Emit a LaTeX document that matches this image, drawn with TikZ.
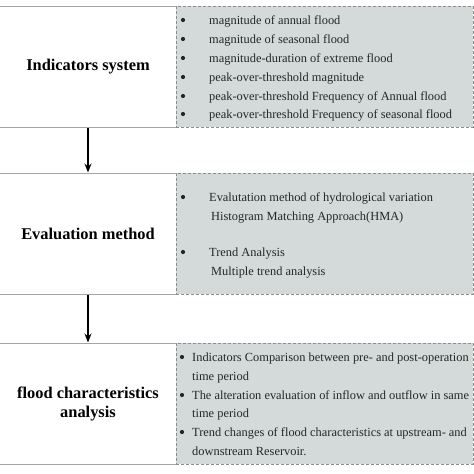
\documentclass[tikz,border=0pt]{standalone}
\usepackage{fontspec}
\setmainfont{Liberation Serif}
\usetikzlibrary{arrows.meta}
\definecolor{panelfill}{RGB}{212,218,217}
\definecolor{paneldash}{RGB}{140,140,140}
\definecolor{boxline}{RGB}{165,165,165}
\tikzset{
  leftbox/.style={draw=boxline, line width=1pt, fill=white, minimum width=180pt, minimum height=121pt, inner sep=0pt, align=center, font=\fontsize{16.4}{19}\selectfont\bfseries},
  panel/.style={draw=paneldash, dashed, dash pattern=on 3pt off 2pt, line width=0.8pt, fill=panelfill, minimum width=297pt, minimum height=121pt, inner sep=0pt},
  item/.style={anchor=base west, inner sep=0pt, font=\fontsize{12.4}{15}\selectfont, text=black!85},
  bul/.style={circle, fill=black!85, inner sep=0pt, minimum size=4.2pt, yshift=4pt},
  arr/.style={line width=1.3pt, -{Stealth[length=9pt,width=7pt]}}
}
\begin{document}
\begin{tikzpicture}[x=1pt,y=-1pt]
\useasboundingbox (0,0) rectangle (474,474);
\fill[white] (0,0) rectangle (474,474);
% left boxes
\node[leftbox] (b1) at (88,66.5) {Indicators system};
\node[leftbox] (b2) at (88,233.5) {Evaluation method};
\node[leftbox] (b3) at (88,403.5) {flood characteristics\\analysis};
% panels
\node[panel] (p1) at (324.5,66.5) {};
\node[panel] (p2) at (324.5,233.5) {};
\node[panel] (p3) at (324.5,403.5) {};
% panel 1
\node[bul] (u11) at (183,24) {};
\node[bul] (u12) at (183,43) {};
\node[bul] (u13) at (183,62) {};
\node[bul] (u14) at (183,81) {};
\node[bul] (u15) at (183,100) {};
\node[bul] (u16) at (183,118) {};
\node[item] (i11) at (209,24) {magnitude of annual flood};
\node[item] (i12) at (209,43) {magnitude of seasonal flood};
\node[item] (i13) at (209,62) {magnitude-duration of extreme flood};
\node[item] (i14) at (209,81) {peak-over-threshold magnitude};
\node[item] (i15) at (209,100) {peak-over-threshold Frequency of Annual flood};
\node[item] (i16) at (209,118) {peak-over-threshold Frequency of seasonal flood};
% panel 2
\node[bul] (u21) at (183,201) {};
\node[bul] (u22) at (183,256) {};
\node[item] (i21) at (209,201) {Evalutation method of hydrological variation};
\node[item] (i22) at (211,220) {Histogram Matching Approach(HMA)};
\node[item] (i23) at (209,256) {Trend Analysis};
\node[item] (i24) at (211,275) {Multiple trend analysis};
% panel 3
\node[bul] (u31) at (182,361) {};
\node[bul] (u32) at (182,399) {};
\node[bul] (u33) at (182,436) {};
\node[item] (i31) at (192,361) {Indicators Comparison between pre- and post-operation};
\node[item] (i32) at (192,380) {time period};
\node[item] (i33) at (192,399) {The alteration evaluation of inflow and outflow in same};
\node[item] (i34) at (192,417) {time period};
\node[item] (i35) at (192,436) {Trend changes of flood characteristics at upstream- and};
\node[item] (i36) at (192,455) {downstream Reservoir.};
% arrows
\draw[arr] (b1.south) -- (b2.north);
\draw[arr] (b2.south) -- (b3.north);
\end{tikzpicture}
\end{document}
